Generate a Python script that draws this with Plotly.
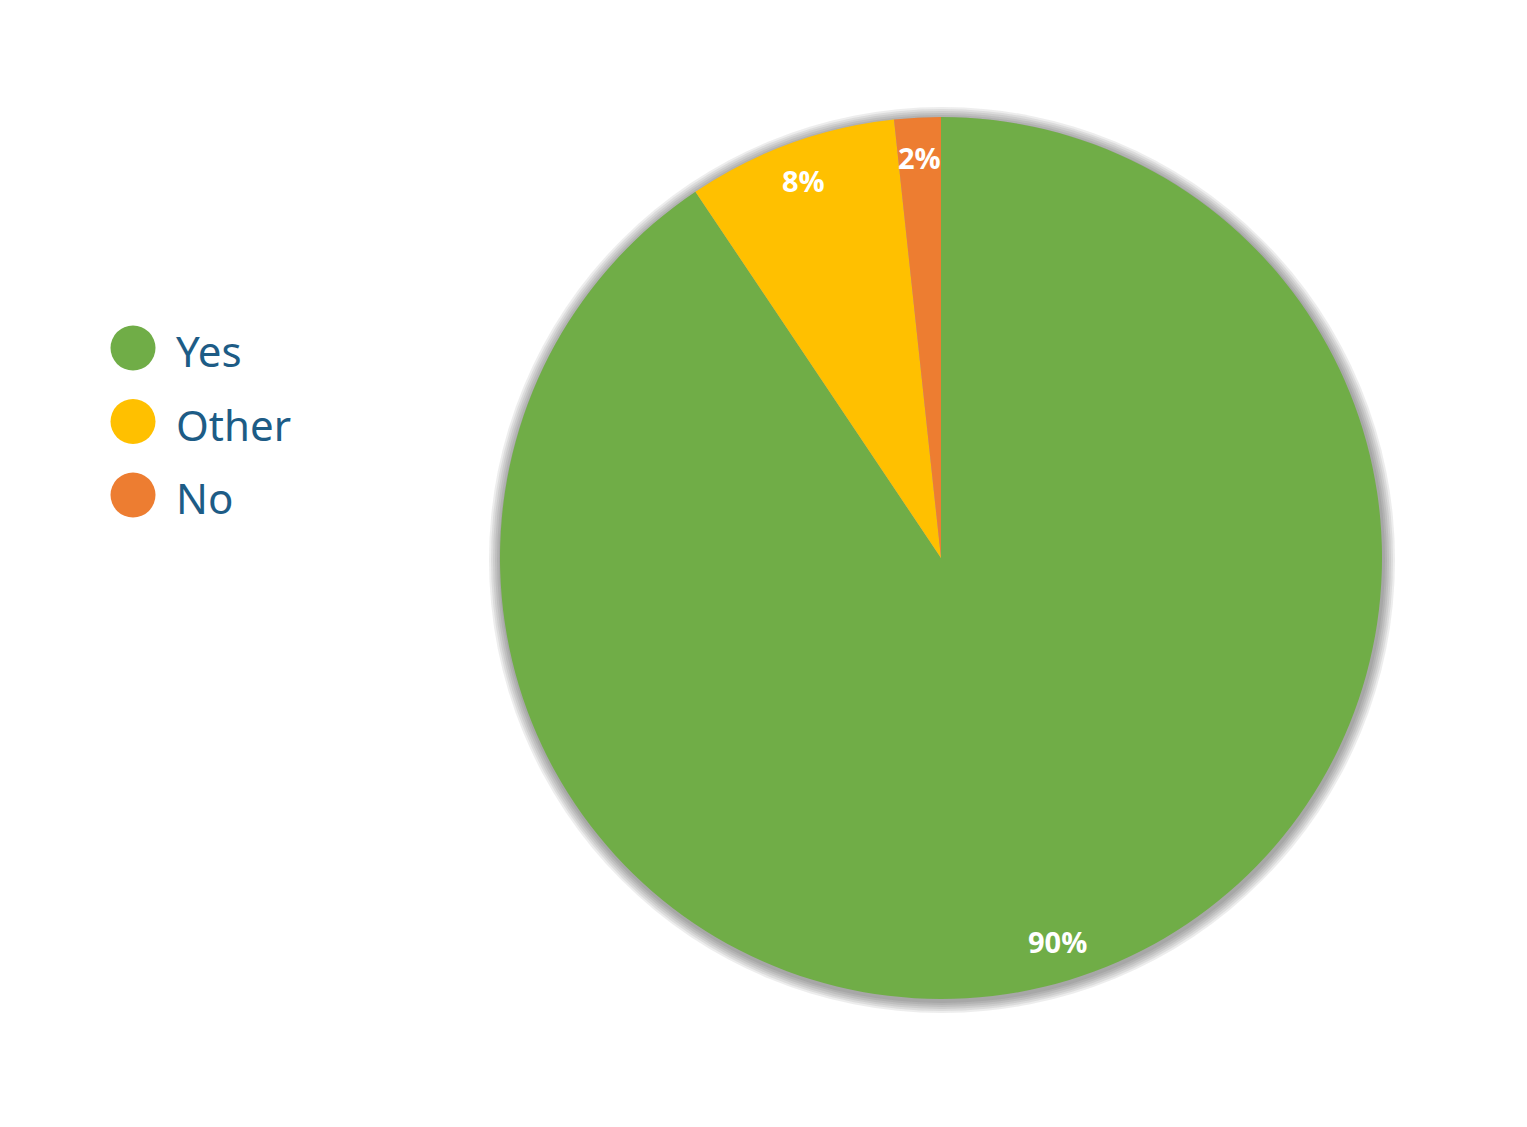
import numpy as np
import plotly.graph_objects as go

labels = ["Yes", "Other", "No"]
shares = [90.6, 7.7, 1.7]          # slice sizes
pct_text = ["90%", "8%", "2%"]     # printed labels
colors = ["#70AD47", "#FFC000", "#ED7D31"]

W, H = 1527, 1127
OFF = 8  # default page margin shifts the plot by this many pixels
cx, cy, R = 941 - OFF, 558 - OFF, 441  # pie centre and radius in pixels
LEGEND_BLUE = "#1D5C86"

fig = go.Figure()

# soft grey shadow behind the pie: a few slightly larger grey discs
for grow in [12, 10, 8, 6, 4, 2]:
    r = R + grow
    fig.add_trace(go.Pie(
        values=[1], labels=["shadow"], sort=False,
        marker=dict(colors=["rgba(60,60,60,0.09)"], line=dict(width=0)),
        textinfo="none", hoverinfo="skip", showlegend=False,
        domain=dict(x=[(cx - r + 1) / W, (cx + r + 1) / W],
                    y=[1 - (cy + r + 2) / H, 1 - (cy - r + 2) / H]),
    ))

fig.add_trace(go.Pie(
    labels=labels, values=shares, sort=False,
    direction="clockwise", rotation=0,
    marker=dict(colors=colors, line=dict(width=0)),
    textinfo="none", showlegend=False,
    domain=dict(x=[(cx - R) / W, (cx + R) / W],
                y=[1 - (cy + R) / H, 1 - (cy - R) / H]),
))

# percent labels placed along each slice's bisector
total = sum(shares)
start = 0.0
for v, t in zip(shares, pct_text):
    mid = np.radians((start + v / 2) / total * 360)
    start += v
    px = cx + 0.91 * R * np.sin(mid)
    py = cy - 0.91 * R * np.cos(mid)
    fig.add_annotation(
        x=px / W, y=1 - py / H, xref="paper", yref="paper",
        xanchor="center", yanchor="middle",
        text=f"<b>{t}</b>", showarrow=False,
        font=dict(family="Open Sans", size=29, color="white"),
    )

# legend: large round markers, names set slightly lower and to the right
rows = np.arange(len(labels))
fig.add_trace(go.Scatter(
    x=np.zeros(len(labels)), y=rows, mode="markers",
    marker=dict(size=45, color=colors, line=dict(width=0)),
    hoverinfo="skip", showlegend=False,
))
fig.add_trace(go.Scatter(
    x=np.full(len(labels), 0.94), y=rows + 0.12, mode="text",
    text=labels, textposition="middle right",
    textfont=dict(family="Noto Sans", size=42, color=LEGEND_BLUE),
    hoverinfo="skip", showlegend=False,
))

step = 73.5
lx, ly = 133 - OFF, 348 - OFF
fig.update_layout(
    width=W, height=H,
    margin=dict(l=0, r=0, t=0, b=0),
    paper_bgcolor="white", plot_bgcolor="rgba(0,0,0,0)",
    xaxis=dict(domain=[0, 458 / W], range=[-lx / 458 * 10, 10 - lx / 458 * 10],
               visible=False, fixedrange=True),
    yaxis=dict(domain=[0, 1], range=[(H - ly) / step, -ly / step],
               visible=False, fixedrange=True),
    showlegend=False,
)

fig.write_html("out.html")
